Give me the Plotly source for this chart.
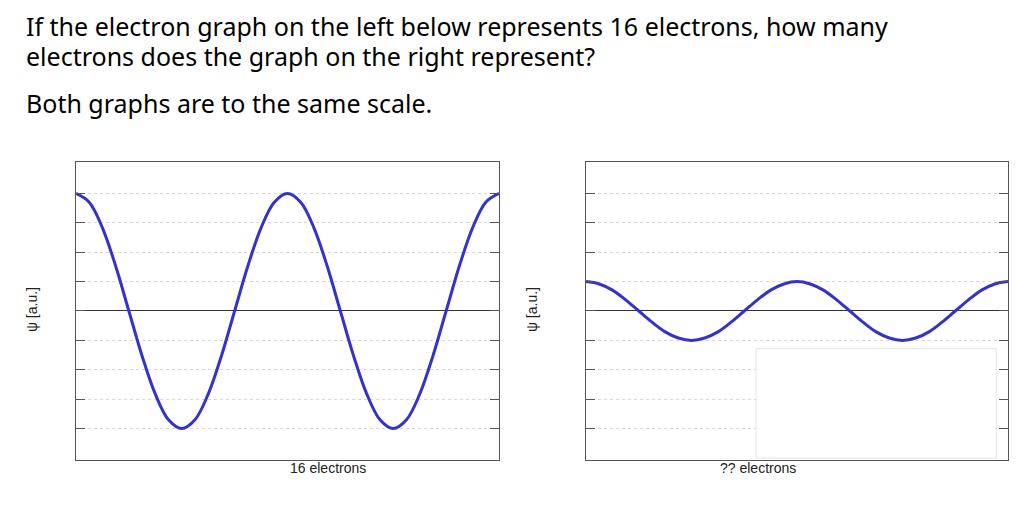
import plotly.graph_objects as go

x_pos = [i / 32 for i in range(33)]
left_psi = [4, 3.70, 2.83, 1.53, 0, -1.53, -2.83, -3.70, -4, -3.70, -2.83, -1.53, 0, 1.53, 2.83, 3.70,
            4, 3.70, 2.83, 1.53, 0, -1.53, -2.83, -3.70, -4, -3.70, -2.83, -1.53, 0, 1.53, 2.83, 3.70, 4]
right_psi = [1, 0.92, 0.71, 0.38, 0, -0.38, -0.71, -0.92, -1, -0.92, -0.71, -0.38, 0, 0.38, 0.71, 0.92,
             1, 0.92, 0.71, 0.38, 0, -0.38, -0.71, -0.92, -1, -0.92, -0.71, -0.38, 0, 0.38, 0.71, 0.92, 1]
tick_vals = [-4, -3, -2, -1, 0, 1, 2, 3, 4]
left_label = "16 electrons"
right_label = "?? electrons"
y_title = "ψ [a.u.]"

fig = go.Figure()
fig.add_trace(go.Scatter(x=x_pos, y=left_psi, mode="lines", line=dict(color="#3333cc", width=3, shape="spline", smoothing=1), xaxis="x", yaxis="y"))
fig.add_trace(go.Scatter(x=x_pos, y=right_psi, mode="lines", line=dict(color="#3333cc", width=3, shape="spline", smoothing=1), xaxis="x2", yaxis="y2"))

ax = dict(range=[0, 1], showticklabels=False, showgrid=False, zeroline=False, showline=True, mirror=True, linecolor="#555", linewidth=1, ticks="")
ay = dict(range=[-5.07, 5.07], tickvals=tick_vals, showticklabels=False, ticks="inside", ticklen=9, tickcolor="#555",
          showgrid=True, gridcolor="#d8d8d8", griddash="dot", zeroline=True, zerolinecolor="#333", zerolinewidth=1,
          showline=True, mirror="allticks", linecolor="#555", linewidth=1)
fig.update_layout(
    width=1024, height=508, margin=dict(l=0, r=0, t=0, b=0, pad=0, autoexpand=False), showlegend=False,
    plot_bgcolor="white", paper_bgcolor="white",
    xaxis=dict(domain=[0.0664, 0.4795], **ax),
    yaxis=dict(domain=[0.1102, 0.6969], anchor="x", **ay),
    xaxis2=dict(domain=[0.5645, 0.9766], anchor="y2", **ax),
    yaxis2=dict(domain=[0.1102, 0.6969], anchor="x2", **ay),
)
fig.add_shape(type="rect", xref="x2", yref="y2", x0=0.403, x1=0.972, y0=-5.0, y1=-1.28,
              fillcolor="white", line=dict(color="#e4e4e4", width=1), layer="above")

tfont = dict(family="Noto Sans", size=25, color="black")
for txt, y in [("If the electron graph on the left below represents 16 electrons, how many", 18),
               ("electrons does the graph on the right represent?", 48),
               ("Both graphs are to the same scale.", 95)]:
    fig.add_annotation(text=txt, x=16 / 1024, y=1 - y / 508, xref="paper", yref="paper", xanchor="left", yanchor="middle", showarrow=False, font=tfont)
lfont = dict(family="Liberation Sans", size=14, color="#222")
fig.add_annotation(text=left_label, x=280 / 1024, y=1 - 470 / 508, xref="paper", yref="paper", showarrow=False, font=lfont)
fig.add_annotation(text=right_label, x=790 / 1024, y=1 - 470 / 508, xref="paper", yref="paper", showarrow=False, font=lfont)
for xp in [14, 524]:
    fig.add_annotation(text=y_title, x=xp / 1024, y=1 - 302 / 508, xref="paper", yref="paper", showarrow=False, textangle=-90, font=lfont)

fig.write_html("out.html")
